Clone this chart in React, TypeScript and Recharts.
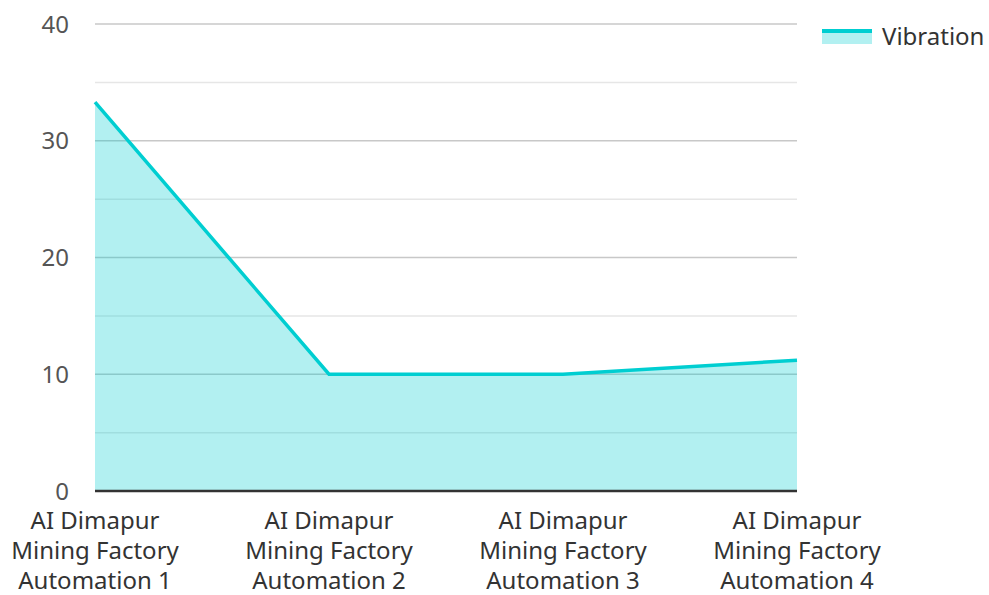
import { AreaChart, Area, XAxis, YAxis, CartesianGrid, Legend } from 'recharts'

const sites = [
  'AI Dimapur Mining Factory Automation 1',
  'AI Dimapur Mining Factory Automation 2',
  'AI Dimapur Mining Factory Automation 3',
  'AI Dimapur Mining Factory Automation 4',
]
const vibration = [33.3, 10, 10, 11.2]
const yTicks = [0, 10, 20, 30, 40]
const minorLines = [5, 15, 25, 35]

const data = sites.map((name, i) => ({ name, vibration: vibration[i] }))

const font = '"Noto Sans", sans-serif'
const teal = '#00CED1'

function SiteTick({ x, y, payload }: any) {
  const words = String(payload.value).split(' ')
  const lines = [words.slice(0, 2).join(' '), words.slice(2, 4).join(' '), words.slice(4).join(' ')]
  return (
    <text x={x} y={y} textAnchor="middle" fill="#333" fontSize={24} fontFamily={font}>
      {lines.map((l, i) => (
        <tspan key={i} x={x} dy={i === 0 ? 38 : 30}>
          {l}
        </tspan>
      ))}
    </text>
  )
}

function VibrationLegend() {
  return (
    <div style={{ display: 'flex', alignItems: 'center', fontFamily: font, fontSize: 24, color: '#333' }}>
      <svg width={50} height={16}>
        <rect x={0} y={2} width={50} height={14} fill={teal} fillOpacity={0.3} />
        <line x1={0} x2={50} y1={3} y2={3} stroke={teal} strokeWidth={4} />
      </svg>
      <span style={{ marginLeft: 10, lineHeight: '28px' }}>Vibration</span>
    </div>
  )
}

export default function App() {
  return (
    <div style={{ position: 'absolute', left: 0, top: 0, fontFamily: font }}>
      <AreaChart width={989} height={595} data={data} margin={{ top: 24, right: 192, left: 0, bottom: 0 }}>
        <CartesianGrid vertical={false} horizontalValues={minorLines} stroke="#e6e6e6" strokeWidth={1.5} />
        <CartesianGrid vertical={false} horizontalValues={yTicks} stroke="#c8c8c8" strokeWidth={1.5} />
        <XAxis
          dataKey="name"
          height={104}
          tick={<SiteTick />}
          tickLine={false}
          tickSize={0}
          tickMargin={0}
          interval={0}
          axisLine={{ stroke: '#333', strokeWidth: 2.5 }}
        />
        <YAxis
          width={95}
          domain={[0, 40]}
          ticks={yTicks}
          axisLine={false}
          tickLine={false}
          tickSize={0}
          tickMargin={26}
          tick={{ fill: '#555', fontSize: 24, fontFamily: font }}
        />
        <Legend
          layout="horizontal"
          verticalAlign="middle"
          align="center"
          wrapperStyle={{ top: 22, left: 822, width: 170 }}
          content={<VibrationLegend />}
        />
        <Area
          type="linear"
          dataKey="vibration"
          stroke={teal}
          strokeWidth={3.5}
          fill={teal}
          fillOpacity={0.3}
          dot={false}
          activeDot={false}
          isAnimationActive={false}
        />
      </AreaChart>
    </div>
  )
}
